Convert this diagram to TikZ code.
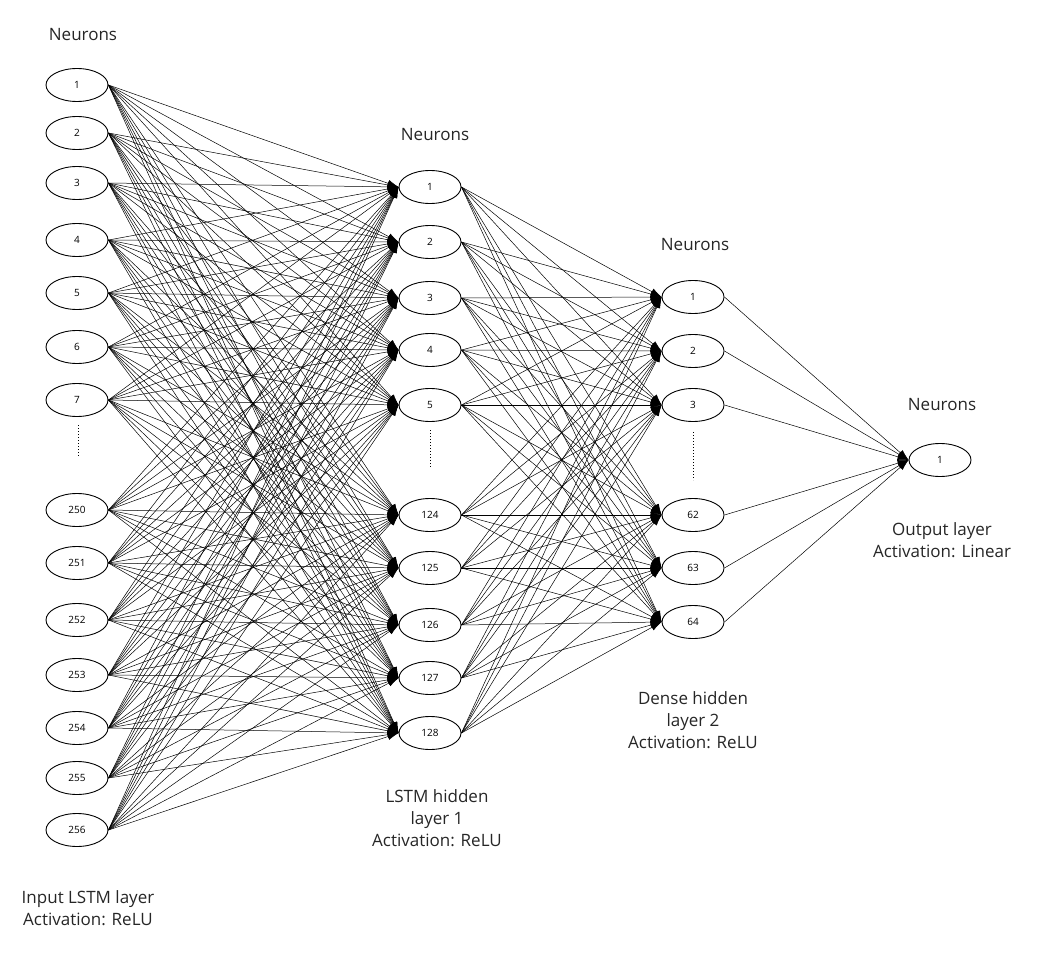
\documentclass[tikz,border=0pt]{standalone}
\usepackage{fontspec}
\setmainfont{Open Sans}
\usetikzlibrary{shapes.geometric,arrows.meta}
\begin{document}
\begin{tikzpicture}[x=1pt,y=-1pt,
  neu/.style={ellipse,draw,line width=0.9pt,minimum width=62pt,minimum height=33pt,inner sep=0pt,font=\fontsize{10}{12}\selectfont},
  con/.style={line width=0.5pt,-{Latex[length=11pt,width=7pt]}},
  lbl/.style={font=\fontsize{17}{20}\selectfont,text=black!85},
  dots/.style={line width=1pt,dotted}]
\useasboundingbox (0,0) rectangle (1048,957);
% input layer
\foreach \n/\y in {1/85,2/133,3/183,4/240,5/293,6/347,7/400,250/510,251/563,252/620,253/675,254/728,255/778,256/830}
  \node[neu] (i\n) at (77,\y) {\n};
\foreach \n/\y in {1/187,2/242,3/298,4/350,5/405,124/515,125/568,126/625,127/678,128/733}
  \node[neu] (h\n) at (430,\y) {\n};
\foreach \n/\y in {1/297,2/351,3/405,62/515,63/568,64/622}
  \node[neu] (d\n) at (693,\y) {\n};
\node[neu] (o1) at (940,460) {1};
\foreach \a in {1,2,3,4,5,6,7,250,251,252,253,254,255,256}
  \foreach \b in {1,2,3,4,5,124,125,126,127,128}
    \draw[con] (i\a.east) -- (h\b.west);
\foreach \a in {1,2,3,4,5,124,125,126,127,128}
  \foreach \b in {1,2,3,62,63,64}
    \draw[con] (h\a.east) -- (d\b.west);
\foreach \a in {1,2,3,62,63,64}
  \draw[con] (d\a.east) -- (o1.west);
\coordinate (a1) at (78,425); \coordinate (a2) at (78,457);
\coordinate (b1) at (430,430); \coordinate (b2) at (430,468);
\coordinate (c1) at (693,432); \coordinate (c2) at (693,480);
\draw[dots] (a1) -- (a2); \draw[dots] (b1) -- (b2); \draw[dots] (c1) -- (c2);
\node[lbl] (t1) at (83,35) {Neurons};
\node[lbl] (t2) at (435,135) {Neurons};
\node[lbl] (t3) at (695,245) {Neurons};
\node[lbl] (t4) at (942,405) {Neurons};
\node[lbl,align=center] (l1) at (88,908) {Input LSTM layer\\[2pt]Activation: ReLU};
\node[lbl,align=center] (l2) at (437,818) {LSTM hidden\\[2pt]layer 1\\[2pt]Activation: ReLU};
\node[lbl,align=center] (l3) at (693,720) {Dense hidden\\[2pt]layer 2\\[2pt]Activation: ReLU};
\node[lbl,align=center] (l4) at (942,540) {Output layer\\[2pt]Activation: Linear};
\end{tikzpicture}
\end{document}
